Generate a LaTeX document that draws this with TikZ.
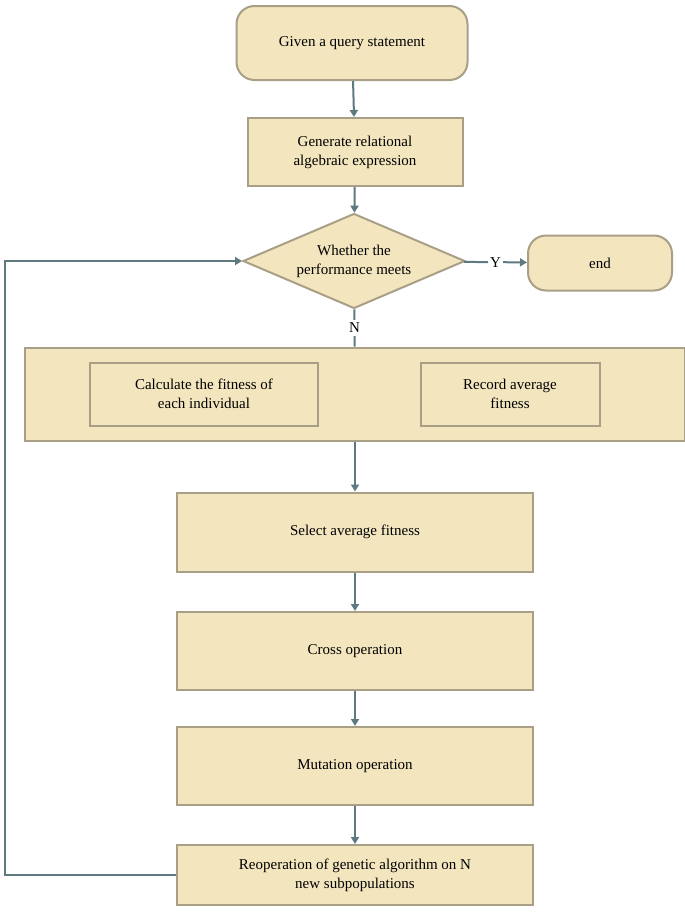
\documentclass[tikz,border=0pt]{standalone}
\usepackage{fontspec}
\setmainfont{Liberation Serif}
\usetikzlibrary{shapes.geometric,arrows.meta}
\definecolor{fillc}{HTML}{F3E6BF}
\definecolor{bord}{HTML}{A89F86}
\definecolor{arr}{HTML}{5E7A80}
\begin{document}
\begin{tikzpicture}[x=1pt,y=-1pt,
  box/.style={draw=bord,fill=fillc,line width=2pt,align=center,font=\fontsize{15}{19}\selectfont,inner sep=0pt},
  ar/.style={draw=arr,line width=2pt,-{Triangle[length=7pt,width=8pt]}},
  ln/.style={draw=arr,line width=2pt}]
\useasboundingbox (0,0) rectangle (685,921);
\node[box,rounded corners=18pt,minimum width=231pt,minimum height=74pt] (start) at (352,43) {Given a query statement};
\node[box,minimum width=215pt,minimum height=68pt] (gen) at (355,152) {Generate relational\\algebraic expression};
\node[box,diamond,aspect=2.3,minimum width=222pt,minimum height=95pt] (dec) at (354,261) {Whether the\\performance meets};
\node[box,rounded corners=18pt,minimum width=144pt,minimum height=55pt] (end) at (600,263) {end};
\node[box,minimum width=660pt,minimum height=93pt] (big) at (355,394) {};
\node[box,minimum width=228pt,minimum height=63pt] (calc) at (204,394) {Calculate the fitness of\\each individual};
\node[box,minimum width=179pt,minimum height=63pt] (rec) at (510,394) {Record average\\fitness};
\node[box,minimum width=356pt,minimum height=79pt] (sel) at (355,532) {Select average fitness};
\node[box,minimum width=356pt,minimum height=78pt] (cross) at (355,651) {Cross operation};
\node[box,minimum width=356pt,minimum height=78pt] (mut) at (355,766) {Mutation operation};
\node[box,minimum width=356pt,minimum height=60pt] (reop) at (355,875) {Reoperation of genetic algorithm on N\\new subpopulations};
\coordinate (c1) at (5,875);
\coordinate (c2) at (5,261);
\draw[ar] (start) -- (gen);
\draw[ar] (gen) -- (dec);
\draw[ar] (dec) -- node[fill=white,inner sep=2pt,font=\fontsize{15}{19}\selectfont]{Y} (end);
\draw[ln] (dec) -- node[fill=white,inner sep=3pt,font=\fontsize{15}{19}\selectfont]{N} (big);
\draw[ar] (big) -- (sel);
\draw[ar] (sel) -- (cross);
\draw[ar] (cross) -- (mut);
\draw[ar] (mut) -- (reop);
\draw[ar] (reop.west) -- (c1) -- (c2) -- (dec.west);
\end{tikzpicture}
\end{document}
